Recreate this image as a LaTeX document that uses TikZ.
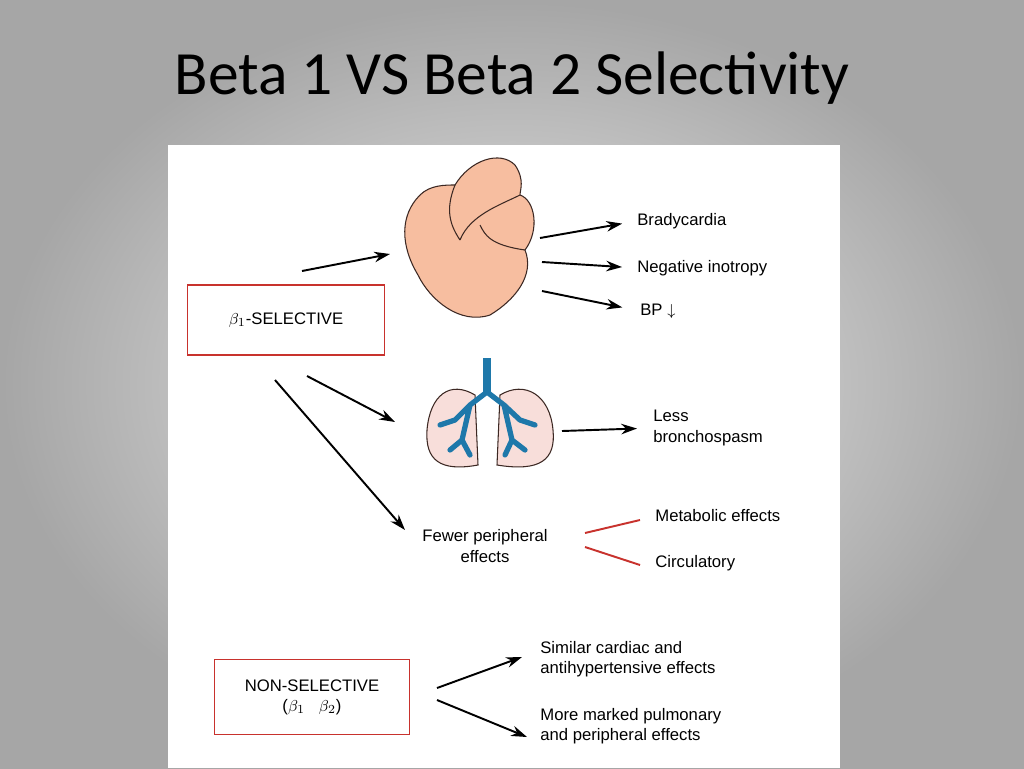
\documentclass[tikz,border=0pt]{standalone}
\usepackage{fontspec}
\setmainfont{Liberation Sans}
\newfontfamily\titlefont{Carlito}
\usetikzlibrary{arrows.meta,positioning}
\definecolor{organ}{RGB}{247,190,160}
\definecolor{organline}{RGB}{60,40,35}
\definecolor{lungfill}{RGB}{248,222,218}
\definecolor{airway}{RGB}{30,120,170}
\definecolor{boxred}{RGB}{200,50,45}
\begin{document}
\begin{tikzpicture}[x=0.02cm,y=-0.02cm,
  arr/.style={-{Stealth[length=9pt,width=6pt]},line width=1.1pt},
  lbl/.style={anchor=west,font=\fontsize{9.5}{11.5}\selectfont,align=left,inner sep=0pt},
  selbox/.style={draw=boxred,line width=1pt,fill=white,font=\fontsize{9.5}{11.5}\selectfont,align=center},
  redline/.style={boxred,line width=1.1pt}]
\shade[inner color=gray!15,outer color=gray!70] (0,0) rectangle (1024,768);
\useasboundingbox (0,0) rectangle (1024,768);
\fill[white] (168,145) rectangle (840,768);
\node (title) at (512,78) {\titlefont\fontsize{35}{40}\selectfont Beta 1 VS Beta 2 Selectivity};
% boxes
\node[selbox,minimum width=197*0.02cm,minimum height=70*0.02cm] (sel) at (286,320) {$\beta_{1}$-SELECTIVE};
\node[selbox,minimum width=195*0.02cm,minimum height=75*0.02cm] (nonsel) at (312,697) {NON-SELECTIVE\\($\beta_{1}$\ \ \ $\beta_{2}$)};
% heart
\filldraw[fill=organ,draw=organline,line width=0.6pt]
  (455,185) .. controls (470,160) and (500,150) .. (515,165)
  .. controls (525,180) and (520,190) .. (520,195)
  .. controls (535,200) and (540,230) .. (525,250)
  .. controls (535,275) and (515,300) .. (490,315)
  .. controls (460,325) and (430,300) .. (418,275)
  .. controls (400,245) and (400,215) .. (420,195)
  .. controls (430,185) and (445,185) .. (455,185) -- cycle;
\draw[organline,line width=0.6pt] (460,240) .. controls (470,215) and (500,205) .. (520,195);
\draw[organline,line width=0.6pt] (480,225) .. controls (485,235) and (490,245) .. (525,250);
\draw[organline,line width=0.6pt] (460,240) .. controls (450,225) and (445,210) .. (455,185);
% lungs
\filldraw[fill=lungfill,draw=organline,line width=0.6pt]
  (475,395) .. controls (450,380) and (430,395) .. (427,430)
  .. controls (425,460) and (440,472) .. (478,465) -- cycle;
\filldraw[fill=lungfill,draw=organline,line width=0.6pt]
  (500,395) .. controls (525,380) and (550,395) .. (553,430)
  .. controls (556,460) and (540,472) .. (497,465) -- cycle;
\draw[airway,line width=5pt] (487,358) -- (487,392);
\draw[airway,line width=3pt,line cap=round] (487,392) -- (470,405) -- (455,420) (470,405) -- (462,440) (455,420) -- (440,425) (462,440) -- (450,450) (462,440) -- (470,455)
  (487,392) -- (504,405) -- (520,420) (504,405) -- (512,440) (520,420) -- (535,425) (512,440) -- (525,450) (512,440) -- (505,455);
% targets
\node[lbl] (brady) at (637,221) {Bradycardia};
\node[lbl] (inotropy) at (637,268) {Negative inotropy};
\node[lbl] (bp) at (640,311) {BP $\downarrow$};
\node[lbl] (broncho) at (653,428) {Less\\bronchospasm};
\node[font=\fontsize{9.5}{11.5}\selectfont,align=center,inner sep=0pt] (periph) at (485,546) {Fewer peripheral\\effects};
\node[lbl] (metab) at (655,516) {Metabolic effects};
\node[lbl] (circ) at (655,563) {Circulatory};
\node[lbl] (similar) at (540,659) {Similar cardiac and\\antihypertensive effects};
\node[lbl] (marked) at (540,726) {More marked pulmonary\\and peripheral effects};
% arrows
\draw[arr] (302,271) -- (390,254);
\draw[arr,shorten >=15*0.02cm] (540,238) -- (brady.west);
\draw[arr,shorten >=15*0.02cm] (542,262) -- (inotropy.west);
\draw[arr,shorten >=18*0.02cm] (542,291) -- (bp.west);
\draw[arr] (307,376) -- (395,422);
\draw[arr,shorten >=16*0.02cm] (562,431) -- (broncho.west);
\draw[arr] (275,380) -- (405,530);
\draw[redline] (585,533) -- (640,520);
\draw[redline] (585,547) -- (640,565);
\draw[arr] (437,688) -- (522,657);
\draw[arr] (437,700) -- (527,737);
\end{tikzpicture}
\end{document}
